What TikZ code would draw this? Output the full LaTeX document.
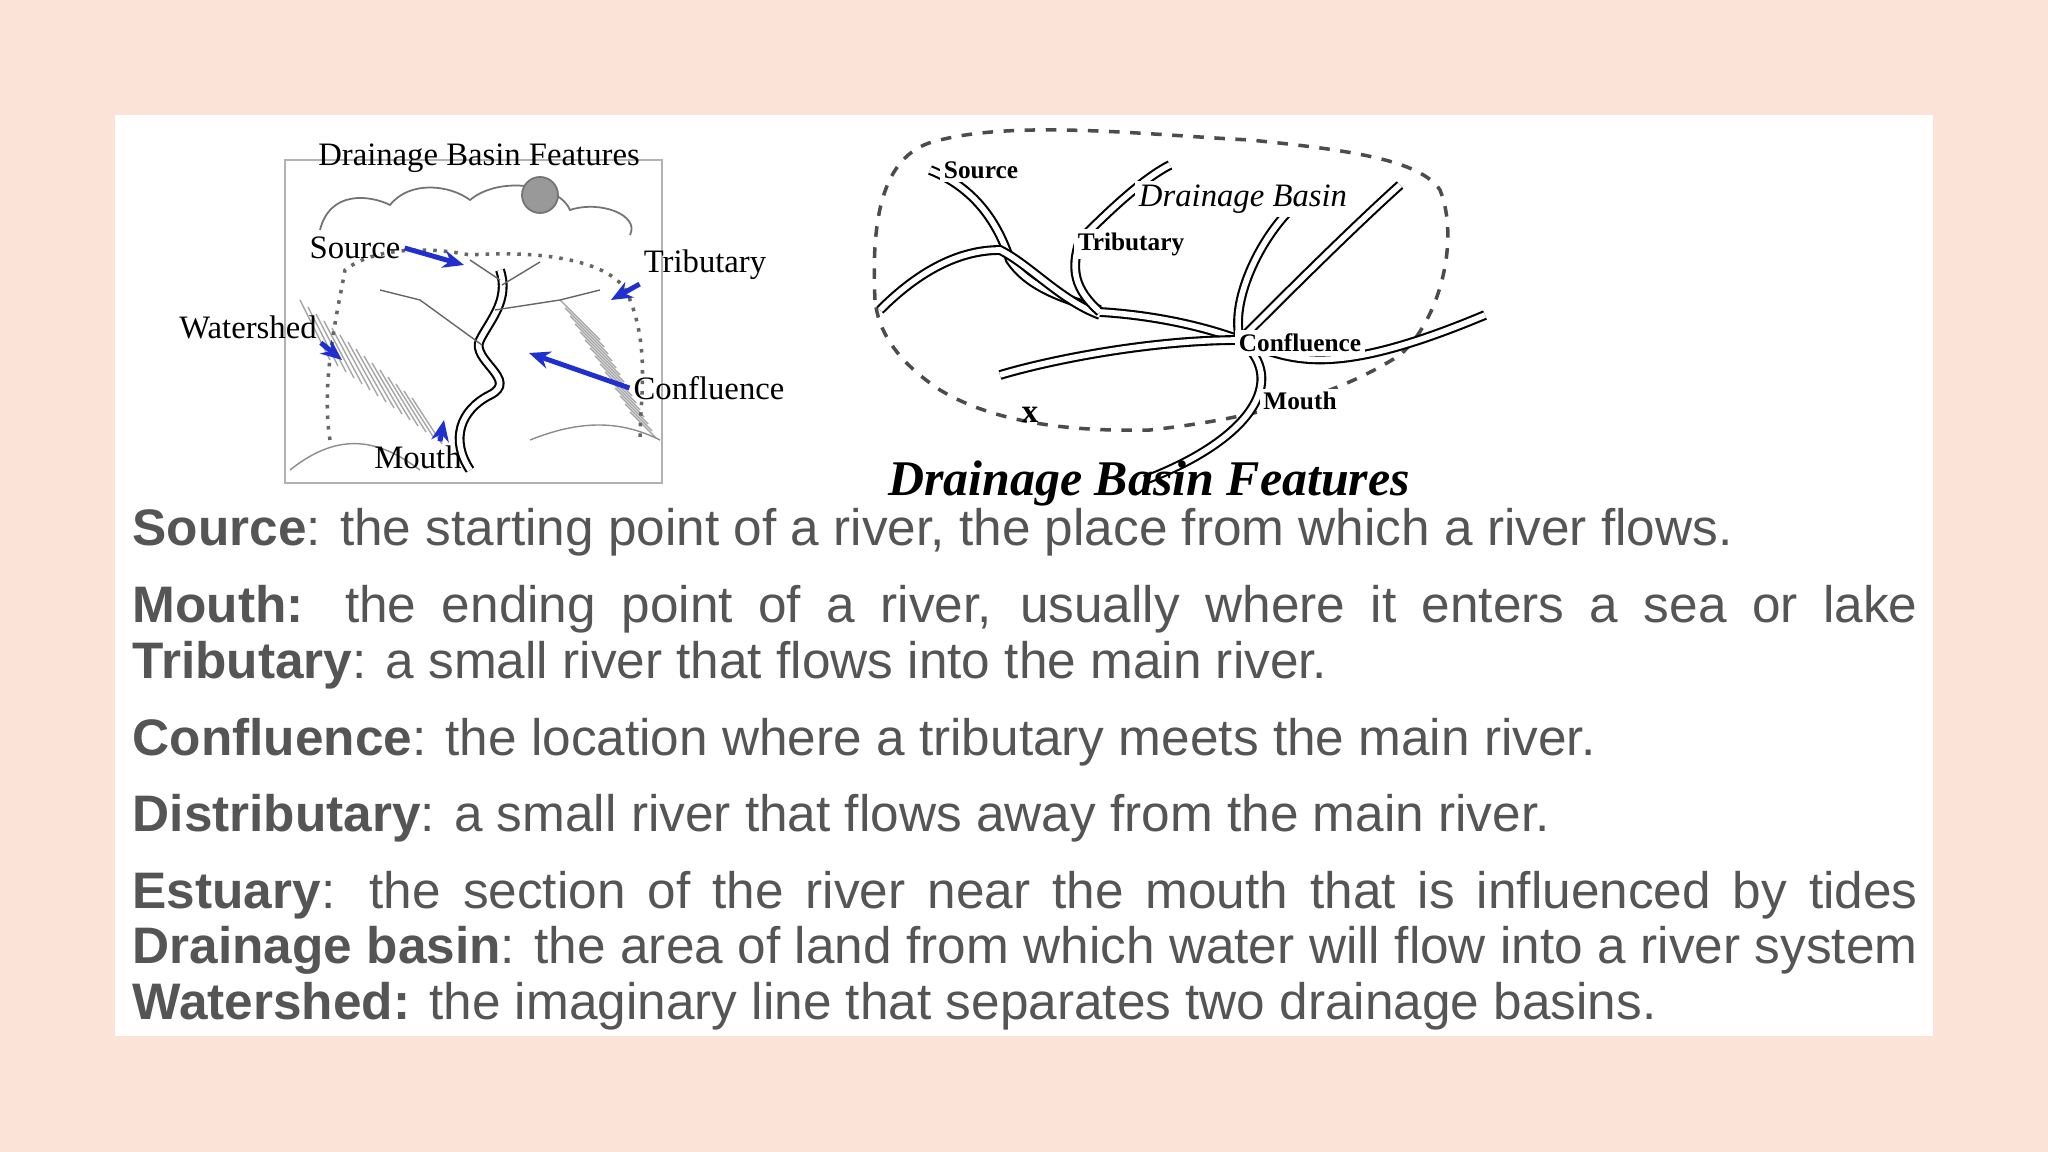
\documentclass[tikz,border=0pt]{standalone}
\usepackage{fontspec}
\setmainfont{Liberation Sans}
\newfontfamily\serifl{Liberation Serif}
\usetikzlibrary{arrows.meta}
\definecolor{bgpeach}{HTML}{FCE3D8}
\definecolor{txtgrey}{HTML}{555555}
\definecolor{arrblue}{HTML}{1F2FD0}
\tikzset{
  lbl/.style={font=\serifl\fontsize{9.3}{9.3}\selectfont, inner sep=1pt},
  rlbl/.style={font=\serifl\bfseries\fontsize{7.2}{7.2}\selectfont, inner sep=1pt},
  barrow/.style={draw=arrblue, line width=1.4pt, -{Stealth[length=6pt,width=5pt]}},
  river/.style={double=white, draw=black, line width=0.6pt, double distance=1.6pt},
  body/.style={anchor=west, inner sep=0pt, text=txtgrey, font=\fontsize{14.6}{16}\selectfont},
  sketch/.style={draw=black!55, line width=0.5pt}
}
\begin{document}
\begin{tikzpicture}[x=0.01cm,y=-0.01cm]
\useasboundingbox (0,0) rectangle (2048,1152);
\fill[bgpeach] (0,0) rectangle (2048,1152);
\fill[white] (115,115) rectangle (1933,1036);
% ---------- left sketch ----------
\draw[black!30] (285,160) rectangle (662,483);
\node[lbl] (ltitle) at (479,158) {Drainage Basin Features};
\draw[sketch] (320,230) .. controls (330,190) and (370,195) .. (390,205) .. controls (410,180) and (450,185) .. (470,200) .. controls (500,175) and (560,185) .. (570,210) .. controls (600,200) and (640,215) .. (630,235);
\draw[sketch,fill=black!40] (540,195) circle (18);
\foreach \i in {0,...,14}{\draw[black!35] (300+\i*8,300+\i*7) -- (330+\i*8,360+\i*6);}
\foreach \i in {0,...,14}{\draw[black!35] (560+\i*5,300+\i*8) -- (600+\i*4,340+\i*7);}
\draw[black!45] (290,470) .. controls (340,430) and (380,440) .. (420,470);
\draw[black!45] (530,440) .. controls (580,420) and (620,420) .. (660,440);
\draw[black!60, dotted, line width=1pt] (330,440) .. controls (320,380) and (340,300) .. (345,270) .. controls (370,250) and (420,245) .. (470,255) .. controls (540,250) and (620,260) .. (630,300) .. controls (650,350) and (640,400) .. (640,440);
\draw[river] (470,470) .. controls (450,440) and (460,410) .. (490,395) .. controls (520,380) and (470,360) .. (480,340) .. controls (490,320) and (510,300) .. (500,270);
\draw[black!60] (482,345) -- (420,300) -- (380,290);
\draw[black!60] (495,310) -- (560,300) -- (600,290);
\draw[black!60] (500,280) -- (470,260);
\draw[black!60] (502,285) -- (540,262);
\node[lbl] (lsource) at (355,248) {Source};
\node[lbl] (ltrib) at (705,265) {Tributary};
\node[lbl] (lwater) at (248,327) {Watershed};
\node[lbl] (lconf) at (709,388) {Confluence};
\node[lbl] (lmouth) at (418,457) {Mouth};
\coordinate (psource) at (464,265);
\coordinate (ptrib) at (611,300);
\coordinate (pwater) at (342,360);
\coordinate (pconf) at (529,353);
\coordinate (pmouth) at (444,420);
\draw[barrow] (lsource.east) -- (psource);
\draw[barrow] (ltrib.south west) -- (ptrib);
\draw[barrow] (lwater.south east) -- (pwater);
\draw[barrow] (lconf.west) -- (pconf);
\draw[barrow] (lmouth.north) ++(22,0) -- (pmouth);
% ---------- right sketch ----------
\draw[black!70, dashed, line width=1pt] (875,300) .. controls (870,200) and (890,150) .. (940,140) .. controls (1020,120) and (1150,135) .. (1250,140) .. controls (1350,150) and (1420,160) .. (1440,190) .. controls (1460,240) and (1440,320) .. (1400,355) .. controls (1330,400) and (1240,420) .. (1150,430) .. controls (1060,432) and (990,420) .. (940,390) .. controls (895,360) and (878,330) .. (875,300);
\draw[river] (930,170) .. controls (980,190) and (1000,230) .. (1010,260) .. controls (1030,290) and (1070,300) .. (1100,310);
\draw[river] (880,310) .. controls (920,270) and (960,250) .. (1000,250) .. controls (1030,265) and (1060,300) .. (1100,315);
\draw[river] (1170,165) .. controls (1140,180) and (1100,220) .. (1080,240) .. controls (1070,270) and (1075,290) .. (1100,312);
\draw[river] (1100,312) .. controls (1150,315) and (1200,325) .. (1240,340);
\draw[river] (1400,185) .. controls (1350,230) and (1280,300) .. (1240,340);
\draw[river] (1290,210) .. controls (1260,240) and (1230,300) .. (1240,340);
\draw[river] (1000,375) .. controls (1050,360) and (1150,340) .. (1240,340);
\draw[river] (1240,340) .. controls (1290,360) and (1330,380) .. (1485,315);
\draw[river] (1240,340) .. controls (1290,380) and (1250,440) .. (1145,480);
\node[rlbl, fill=white] (rsource) at (981,170) {Source};
\node[font=\serifl\itshape\fontsize{9.3}{9.3}\selectfont, fill=white, inner sep=1pt] (rbasin) at (1243,199) {Drainage Basin};
\node[rlbl, fill=white] (rtrib) at (1131,244) {Tributary};
\node[rlbl, fill=white] (rconf) at (1300,343) {Confluence};
\node[rlbl, fill=white] (rmouth) at (1300,401) {Mouth};
\node[font=\serifl\bfseries\fontsize{9.5}{9.5}\selectfont] (rx) at (1030,415) {x};
\node[font=\serifl\bfseries\itshape\fontsize{14.2}{14.2}\selectfont] (rtitle) at (1149,483) {Drainage Basin Features};
% ---------- text ----------
\node[body] (t1) at (132,532) {\textbf{Source}: the starting point of a river, the place from which a river flows.};
\node[body] (t2) at (132,609) {\makebox[17.84cm][s]{\textbf{Mouth:} the ending point of a river, usually where it enters a sea or lake}};
\node[body] (t3) at (132,665) {\textbf{Tributary}: a small river that flows into the main river.};
\node[body] (t4) at (132,742) {\textbf{Confluence}: the location where a tributary meets the main river.};
\node[body] (t5) at (132,818) {\textbf{Distributary}: a small river that flows away from the main river.};
\node[body] (t6) at (132,895) {\makebox[17.84cm][s]{\textbf{Estuary}: the section of the river near the mouth that is influenced by tides}};
\node[body] (t7) at (132,950) {\makebox[17.84cm][s]{\textbf{Drainage basin}: the area of land from which water will flow into a river system}};
\node[body] (t8) at (132,1006) {\textbf{Watershed:} the imaginary line that separates two drainage basins.};
\end{tikzpicture}
\end{document}
